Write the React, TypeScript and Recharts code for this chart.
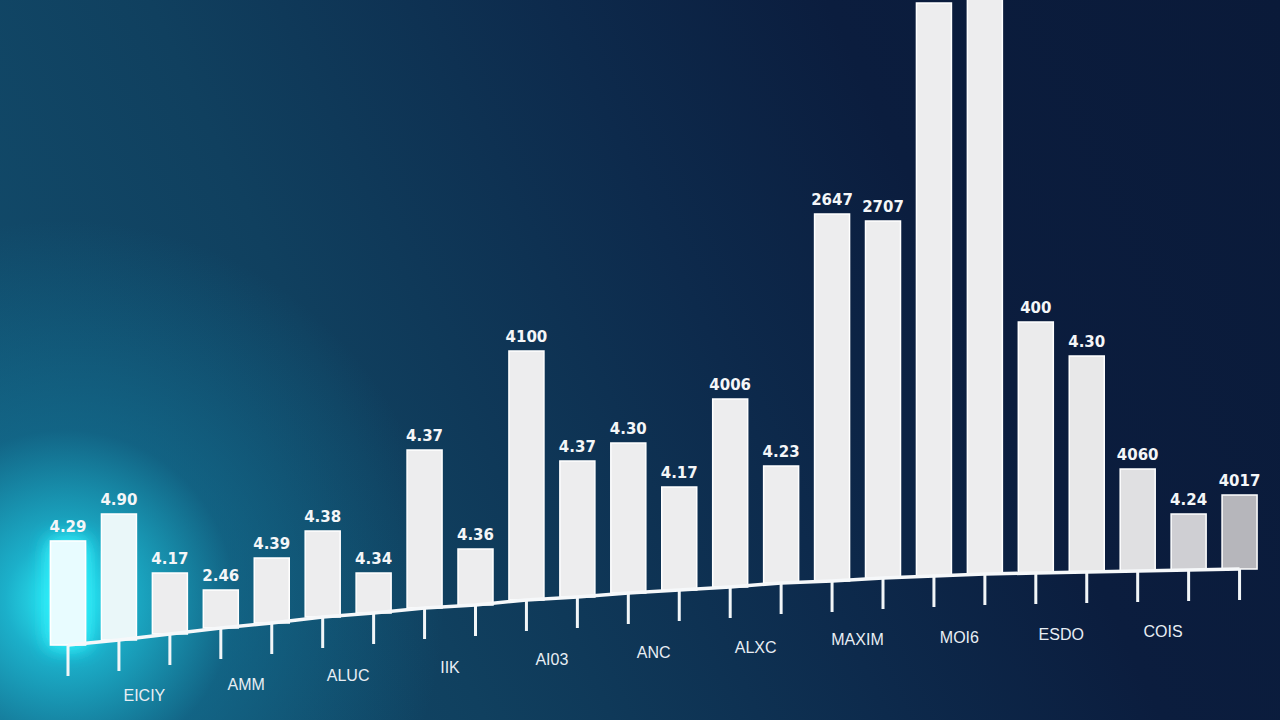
import React from "react";
import { Bar, Cell, ComposedChart, LabelList, Line, Scatter, XAxis, YAxis } from "recharts";

// bar heights (chart units)
const barValues = [
  1.04, 1.26, 0.61, 0.38, 0.65, 0.86, 0.4, 1.58, 0.56, 2.49, 1.36, 1.5,
  1.03, 1.88, 1.17, 3.67, 3.57, 5.73, 6.1, 2.51, 2.16, 1.02, 0.56, 0.74,
];
// the baseline is tilted, so every bar starts from its own floor level
const floorLevels = [
  0.75, 0.8, 0.86, 0.92, 0.97, 1.03, 1.07, 1.12, 1.15, 1.2, 1.23, 1.27,
  1.3, 1.33, 1.37, 1.39, 1.42, 1.44, 1.46, 1.47, 1.48, 1.49, 1.5, 1.51,
];
// text printed above each bar (the two tallest run off the top)
const valueLabels = [
  "4.29", "4.90", "4.17", "2.46", "4.39", "4.38", "4.34", "4.37", "4.36", "4100", "4.37", "4.30",
  "4.17", "4006", "4.23", "2647", "2707", "", "", "400", "4.30", "4060", "4.24", "4017",
];
// category labels sit between every second pair of bars
const categoryLabels = ["EICIY", "AMM", "ALUC", "IIK", "AI03", "ANC", "ALXC", "MAXIM", "MOI6", "ESDO", "COIS"];
const categoryPositions = [2, 4, 6, 8, 10, 12, 14, 16, 18, 20, 22];
const categoryLevels = [0.25, 0.36, 0.45, 0.53, 0.61, 0.68, 0.73, 0.81, 0.83, 0.86, 0.89];

const barColors = [
  "#e8fcff", "#eaf7f9", "#ededee", "#ededee", "#ededee", "#ededee", "#ededee", "#ededee",
  "#ededee", "#ededee", "#ededee", "#ededee", "#ededee", "#ededee", "#ededee", "#ededee",
  "#ededee", "#ededee", "#ededee", "#ebebec", "#e8e8e9", "#e0e0e2", "#cfcfd3", "#b6b6bb",
];

const data = barValues.map((v, i) => ({
  idx: i,
  floor: floorLevels[i],
  range: [floorLevels[i], floorLevels[i] + v],
  label: valueLabels[i],
}));

const labelData = categoryLabels.map((name, i) => ({
  pos: categoryPositions[i],
  level: categoryLevels[i],
  name,
}));

const BarShape = (props: any) => {
  const { x, y, width, height, fill, index } = props;
  const top = Math.min(y, y + height);
  const h = Math.abs(height);
  const cx = x + width / 2;
  return (
    <g>
      <rect
        x={x}
        y={top}
        width={width}
        height={h}
        fill={fill}
        stroke="#ffffff"
        strokeWidth={1.5}
        filter={index === 0 ? "url(#barGlow)" : undefined}
      />
      <line x1={cx} x2={cx} y1={top + h} y2={top + h + 31} stroke="#f2f6f8" strokeWidth={3} />
    </g>
  );
};

const ValueLabel = (props: any) => {
  const { x, y, width, value } = props;
  if (!value) return null;
  return (
    <text
      x={x + width / 2}
      y={y - 9}
      textAnchor="middle"
      fill="#f4f6f8"
      fontSize={15}
      fontFamily="DejaVu Sans"
      fontWeight={600}
    >
      {value}
    </text>
  );
};

const CategoryText = (props: any) => {
  const { cx, cy, payload } = props;
  return (
    <text
      x={cx}
      y={cy}
      textAnchor="middle"
      dominantBaseline="central"
      fill="#e8eef4"
      fontSize={16}
      fontFamily="Liberation Sans"
    >
      {payload.name}
    </text>
  );
};

export default function App() {
  return (
    <div
      style={{
        position: "absolute",
        left: 0,
        top: 0,
        width: 1280,
        height: 720,
        overflow: "hidden",
        background:
          "radial-gradient(circle at 65px 600px, rgba(45,240,250,1) 0px, rgba(30,200,225,0.8) 60px, rgba(20,140,175,0.4) 170px, rgba(20,100,140,0) 380px), " +
          "linear-gradient(65deg, #125070 0%, #10405f 30%, #0d2a4c 55%, #0b1d3e 72%, #0a1a39 100%)",
      }}
    >
      <ComposedChart
        width={1280}
        height={720}
        data={data}
        margin={{ top: 0, right: 15, bottom: 0, left: 42.5 }}
        barSize={35}
      >
        <defs>
          <filter id="barGlow" x="-100%" y="-50%" width="300%" height="200%">
            <feGaussianBlur in="SourceAlpha" stdDeviation="10" result="blur" />
            <feFlood floodColor="#33eefa" floodOpacity="1" />
            <feComposite in2="blur" operator="in" result="glow" />
            <feMerge>
              <feMergeNode in="glow" />
              <feMergeNode in="glow" />
              <feMergeNode in="SourceGraphic" />
            </feMerge>
          </filter>
        </defs>
        <XAxis dataKey="idx" hide />
        <XAxis xAxisId="pos" type="number" dataKey="pos" domain={[0, 24]} hide />
        <YAxis hide domain={[0, 7.2]} allowDataOverflow />
        <Bar dataKey="range" shape={<BarShape />} isAnimationActive={false}>
          {data.map((d, i) => (
            <Cell key={i} fill={barColors[i]} />
          ))}
          <LabelList dataKey="label" content={<ValueLabel />} />
        </Bar>
        <Line
          dataKey="floor"
          type="linear"
          stroke="#f6f8fa"
          strokeWidth={3.5}
          dot={false}
          activeDot={false}
          isAnimationActive={false}
        />
        <Scatter
          xAxisId="pos"
          data={labelData}
          dataKey="level"
          shape={<CategoryText />}
          isAnimationActive={false}
        />
      </ComposedChart>
    </div>
  );
}
